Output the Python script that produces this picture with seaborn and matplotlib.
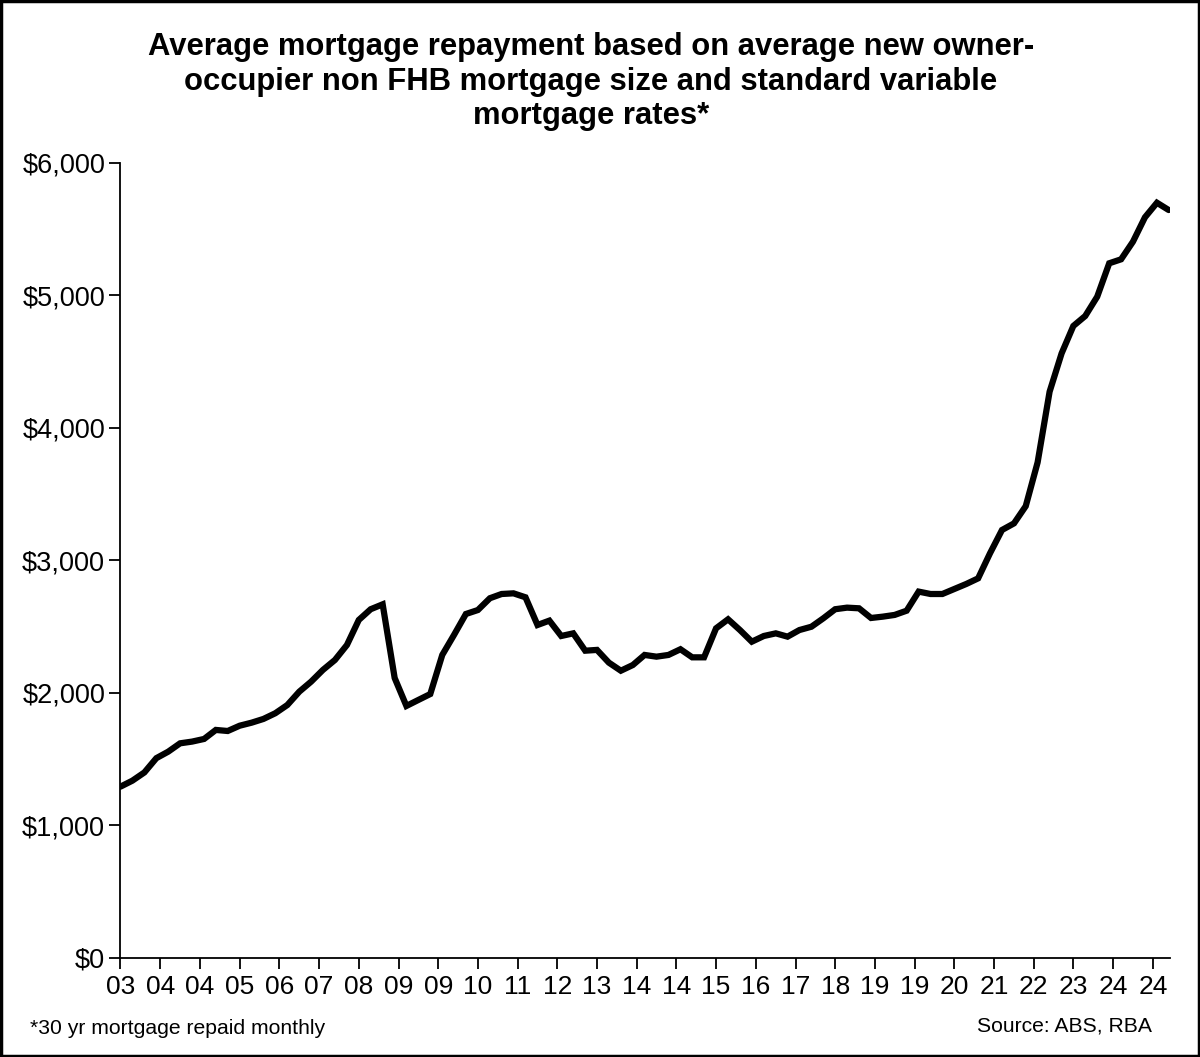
import matplotlib
matplotlib.use("Agg")
import matplotlib.pyplot as plt
import matplotlib.dates as mdates
from matplotlib.ticker import FuncFormatter
from matplotlib.patches import Rectangle
import numpy as np
import pandas as pd
import seaborn as sns

# ---- data (quarterly, Mar-2003 to Mar-2025) ----
repayment = [
    1293, 1338, 1400, 1508, 1557, 1620, 1633, 1653, 1721, 1713,
    1753, 1776, 1804, 1847, 1909, 2010, 2085, 2174, 2249, 2362,
    2551, 2632, 2669, 2113, 1902, 1947, 1992, 2287, 2438, 2596,
    2626, 2715, 2747, 2752, 2722, 2513, 2546, 2430, 2450, 2319,
    2325, 2229, 2168, 2211, 2287, 2274, 2287, 2330, 2269, 2269,
    2488, 2556, 2475, 2387, 2430, 2450, 2425, 2475, 2500, 2564,
    2632, 2644, 2639, 2566, 2576, 2589, 2621, 2765, 2747, 2747,
    2785, 2823, 2865, 3054, 3230, 3280, 3410, 3740, 4274, 4563,
    4770, 4845, 4991, 5243, 5273, 5406, 5590, 5700, 5645,
]
dates = pd.date_range("2003-03-31", periods=len(repayment), freq="QE")
tick_dates = pd.date_range("2003-03-31", periods=27, freq="10ME")
y_ticks = [0, 1000, 2000, 3000, 4000, 5000, 6000]

title = ("Average mortgage repayment based on average new owner-\n"
         "occupier non FHB mortgage size and standard variable\n"
         "mortgage rates*")
footnote = "*30 yr mortgage repaid monthly"
source = "Source: ABS, RBA"

df = pd.DataFrame({"date": dates, "value": repayment})

sns.set_style("ticks")
plt.rcParams["font.family"] = ["Liberation Sans", "DejaVu Sans"]
plt.rcParams["text.color"] = "black"

fig = plt.figure(figsize=(12, 10.57), dpi=100)
ax = fig.add_axes([0.1004, 0.0937, 0.8746, 0.7521])

sns.lineplot(data=df, x="date", y="value", ax=ax, color="black",
             linewidth=4.5, solid_joinstyle="miter")

ax.set_ylim(0, 6000)
ax.set_xlim(dates[0], dates[-1] + pd.Timedelta(days=10))
ax.set_yticks(y_ticks)
ax.yaxis.set_major_formatter(FuncFormatter(lambda v, p: f"${v:,.0f}"))
ax.set_xticks(tick_dates)
ax.xaxis.set_major_formatter(mdates.DateFormatter("%y"))
ax.set_xlabel("")
ax.set_ylabel("")

for s in ["top", "right"]:
    ax.spines[s].set_visible(False)
for s in ["left", "bottom"]:
    ax.spines[s].set_color("black")
    ax.spines[s].set_linewidth(1.3)

ax.tick_params(axis="both", direction="out", length=8, width=1.3,
               color="black", labelcolor="black")
ax.tick_params(axis="y", pad=3, labelsize=19.5)
ax.tick_params(axis="x", pad=4, labelsize=19)

fig.text(0.4925, 0.9700, title, ha="center", va="top", fontsize=22.3,
         fontweight="bold", linespacing=1.21, color="black")
fig.text(0.025, 0.0265, footnote, ha="left", va="center", fontsize=15.2,
         color="black")
fig.text(0.96, 0.0295, source, ha="right", va="center", fontsize=15.2,
         color="black")

fig.add_artist(Rectangle((0.001, 0.001), 0.998, 0.998, transform=fig.transFigure,
                         fill=False, edgecolor="black", linewidth=2.5))

fig.savefig("out.png", dpi=100, facecolor="white")
